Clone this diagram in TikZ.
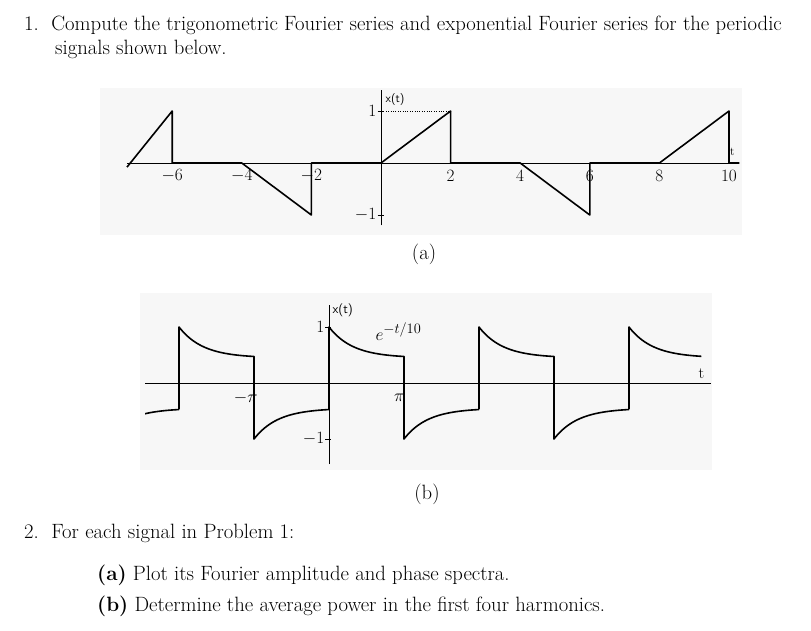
\documentclass[tikz,border=0pt]{standalone}
\begin{document}
\begin{tikzpicture}[x=1pt,y=-1pt,
  body/.style={font=\fontsize{20.7}{24}\selectfont,anchor=west,inner sep=0},
  lab/.style={font=\fontsize{16}{18}\selectfont,inner sep=1pt},
  sig/.style={line width=1.6pt,line join=round},
  ax/.style={line width=0.6pt}]
\useasboundingbox (0,0) rectangle (811,630);
\fill[black!3] (100,88) rectangle (742,235);
\fill[black!3] (140,293) rectangle (712,470);
\node[body] (l1) at (24,25) {1.\ \ Compute the trigonometric Fourier series and exponential Fourier series for the periodic};
\node[body] (l2) at (55,49) {signals shown below.};
% plot (a)
\begin{scope}[shift={(381,163)},x=34.8pt,y=52pt]
  \draw[ax] (-7.3,0) -- (10.3,0);
  \draw[ax] (0,-1.2) -- (0,1.4);
  \draw[ax] (-0.1,1)--(0.1,1) (-0.1,-1)--(0.1,-1);
  \draw[dotted] (0,1) -- (2,1);
  \draw[sig] (-7.3,-0.08) -- (-6,1) -- (-6,0) -- (-4,0) -- (-2,-1) -- (-2,0) -- (0,0) -- (2,1) -- (2,0) -- (4,0) -- (6,-1) -- (6,0) -- (8,0) -- (10,1) -- (10,0) -- (10.3,0);
  \foreach \v/\s in {-6/-6,-4/-4,-2/-2,2/2,4/4,6/6,8/8,10/10}
    \node[lab] (a\v) at (\v,-0.25) {$\s$};
  \node[lab,anchor=west] (axt) at (0.1,1.22) {\fontsize{12}{13}\selectfont\sffamily x(t)};
  \node[lab,anchor=east] (a1) at (-0.1,1) {$1$};
  \node[lab,anchor=east] (am1) at (-0.1,-1) {$-1$};
  \node[lab] (at) at (10.1,0.22) {\fontsize{12}{13}\selectfont t};
\end{scope}
\node[body,anchor=center] (ca) at (424,254) {(a)};
% plot (b)
\begin{scope}[shift={(329,383)},x=23.87pt,y=56pt]
  \draw[ax] (-7.7,0) -- (16,0);
  \draw[ax] (0,-1.45) -- (0,1.4);
  \draw[ax] (-0.15,1)--(0.1,1) (-0.15,-1)--(0.1,-1);
  \begin{scope}
  \clip (-7.7,-1.3) rectangle (15.6,1.3);
  \foreach \k in {-4,-2,0,2,4}{
    \draw[sig] (\k*pi,-0.47) -- (\k*pi,1)
      -- plot[domain=0:pi,samples=30,smooth] ({\k*pi+\x},{0.45+0.55*exp(-\x)})
      -- ({(\k+1)*pi},-1)
      -- plot[domain=0:pi,samples=30,smooth] ({(\k+1)*pi+\x},{-0.45-0.55*exp(-\x)});
  }
  \end{scope}
  \node[lab] (bmp) at (-pi-0.35,-0.27) {$-\pi$};
  \node[lab] (bp) at (pi-0.2,-0.27) {$\pi$};
  \node[lab,anchor=east] (b1) at (-0.15,1) {$1$};
  \node[lab,anchor=east] (bm1) at (-0.15,-1) {$-1$};
  \node[lab,anchor=west] (bxt) at (0.1,1.3) {\fontsize{13}{14}\selectfont\sffamily x(t)};
  \node[lab,anchor=west] (be) at (1.9,0.92) {\fontsize{19}{20}\selectfont$e^{-t/10}$};
  \node[lab] (bt) at (15.6,0.17) {t};
\end{scope}
\node[body,anchor=center] (cb) at (427,494) {(b)};
\node[body] (p2) at (24,533) {2.\ \ For each signal in Problem 1:};
\node[body] (pa) at (97,575) {\textbf{(a)} Plot its Fourier amplitude and phase spectra.};
\node[body] (pb) at (97,606) {\textbf{(b)} Determine the average power in the first four harmonics.};
\end{tikzpicture}
\end{document}
